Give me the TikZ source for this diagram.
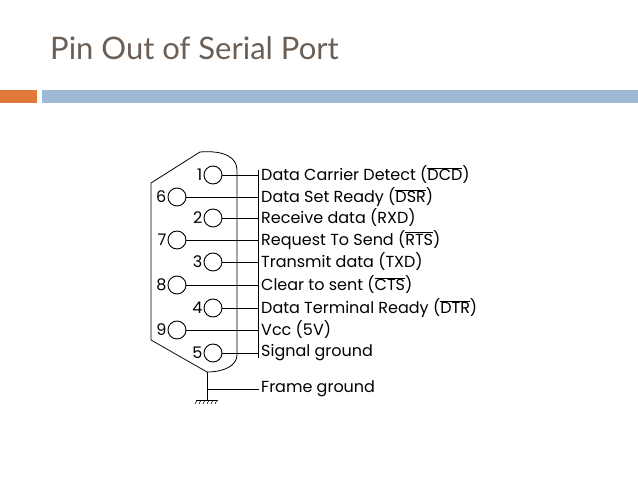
\documentclass[tikz,border=0pt]{standalone}
\usepackage{fontspec}
\setmainfont{Poppins}
\newfontfamily\titlefont{Lato}
\definecolor{titlegray}{HTML}{6A5E55}
\definecolor{barorange}{HTML}{E0793A}
\definecolor{barblue}{HTML}{9DB9D6}
\begin{document}
\begin{tikzpicture}[x=1pt,y=-1pt,
  lab/.style={anchor=west,inner sep=0pt,font=\fontsize{16}{16}\selectfont},
  pin/.style={draw,circle,minimum size=18pt,inner sep=0pt,line width=0.9pt},
  num/.style={anchor=east,inner sep=0pt,font=\fontsize{16}{16}\selectfont},
  wire/.style={line width=0.9pt}]
\useasboundingbox (0,0) rectangle (638,478);
\node[anchor=west,inner sep=0pt,text=titlegray,font=\titlefont\fontsize{31}{31}\selectfont] (title) at (50,48) {Pin Out of Serial Port};
\fill[barorange] (0,90) rectangle (37,103);
\fill[barblue] (42,90) rectangle (638,103);
% shell
\draw[line width=0.8pt] (151,340) -- (151,183) -- (200,152) .. controls (225,150) and (237,158) .. (237,170) -- (237,355) .. controls (237,365) and (225,372) .. (207,372) -- cycle;
\foreach \n/\y/\x/\t in {1/175/213/{Data Carrier Detect (\hbox{$\overline{\hbox{DCD}}$})},
 6/197/177/{Data Set Ready (\hbox{$\overline{\hbox{DSR}}$})},
 2/218/213/{Receive data (RXD)},
 7/240/177/{Request To Send (\hbox{$\overline{\hbox{RTS}}$})},
 3/262/213/{Transmit data (TXD)},
 8/285/177/{Clear to sent (\hbox{$\overline{\hbox{CTS}}$})},
 4/308/213/{Data Terminal Ready (\hbox{$\overline{\hbox{DTR}}$})},
 9/330/177/{Vcc (5V)},
 5/353/213/{Signal ground}}{
  \node[pin] (p\n) at (\x,\y) {};
  \node[num] (n\n) at ([xshift=-1pt]p\n.west) {\n};
  \node[lab] (t\n) at (261,\y) {\t};
  \draw[wire] (p\n.east) -- ([xshift=-2pt]t\n.west);
}
\draw[wire] (258,170) -- (258,358);
\coordinate (g0) at (207,372);
\coordinate (g1) at (207,400);
\node[lab] (fg) at (261,389) {Frame ground};
\draw[wire] (g0) -- (g1);
\draw[wire] (207,389) -- ([xshift=-2pt]fg.west);
\draw[line width=0.7pt] (196,400) -- (218,400);
\foreach \i in {0,...,5}{\draw[line width=0.5pt] (197+4*\i,400) -- (195+4*\i,404);}
\end{tikzpicture}
\end{document}
